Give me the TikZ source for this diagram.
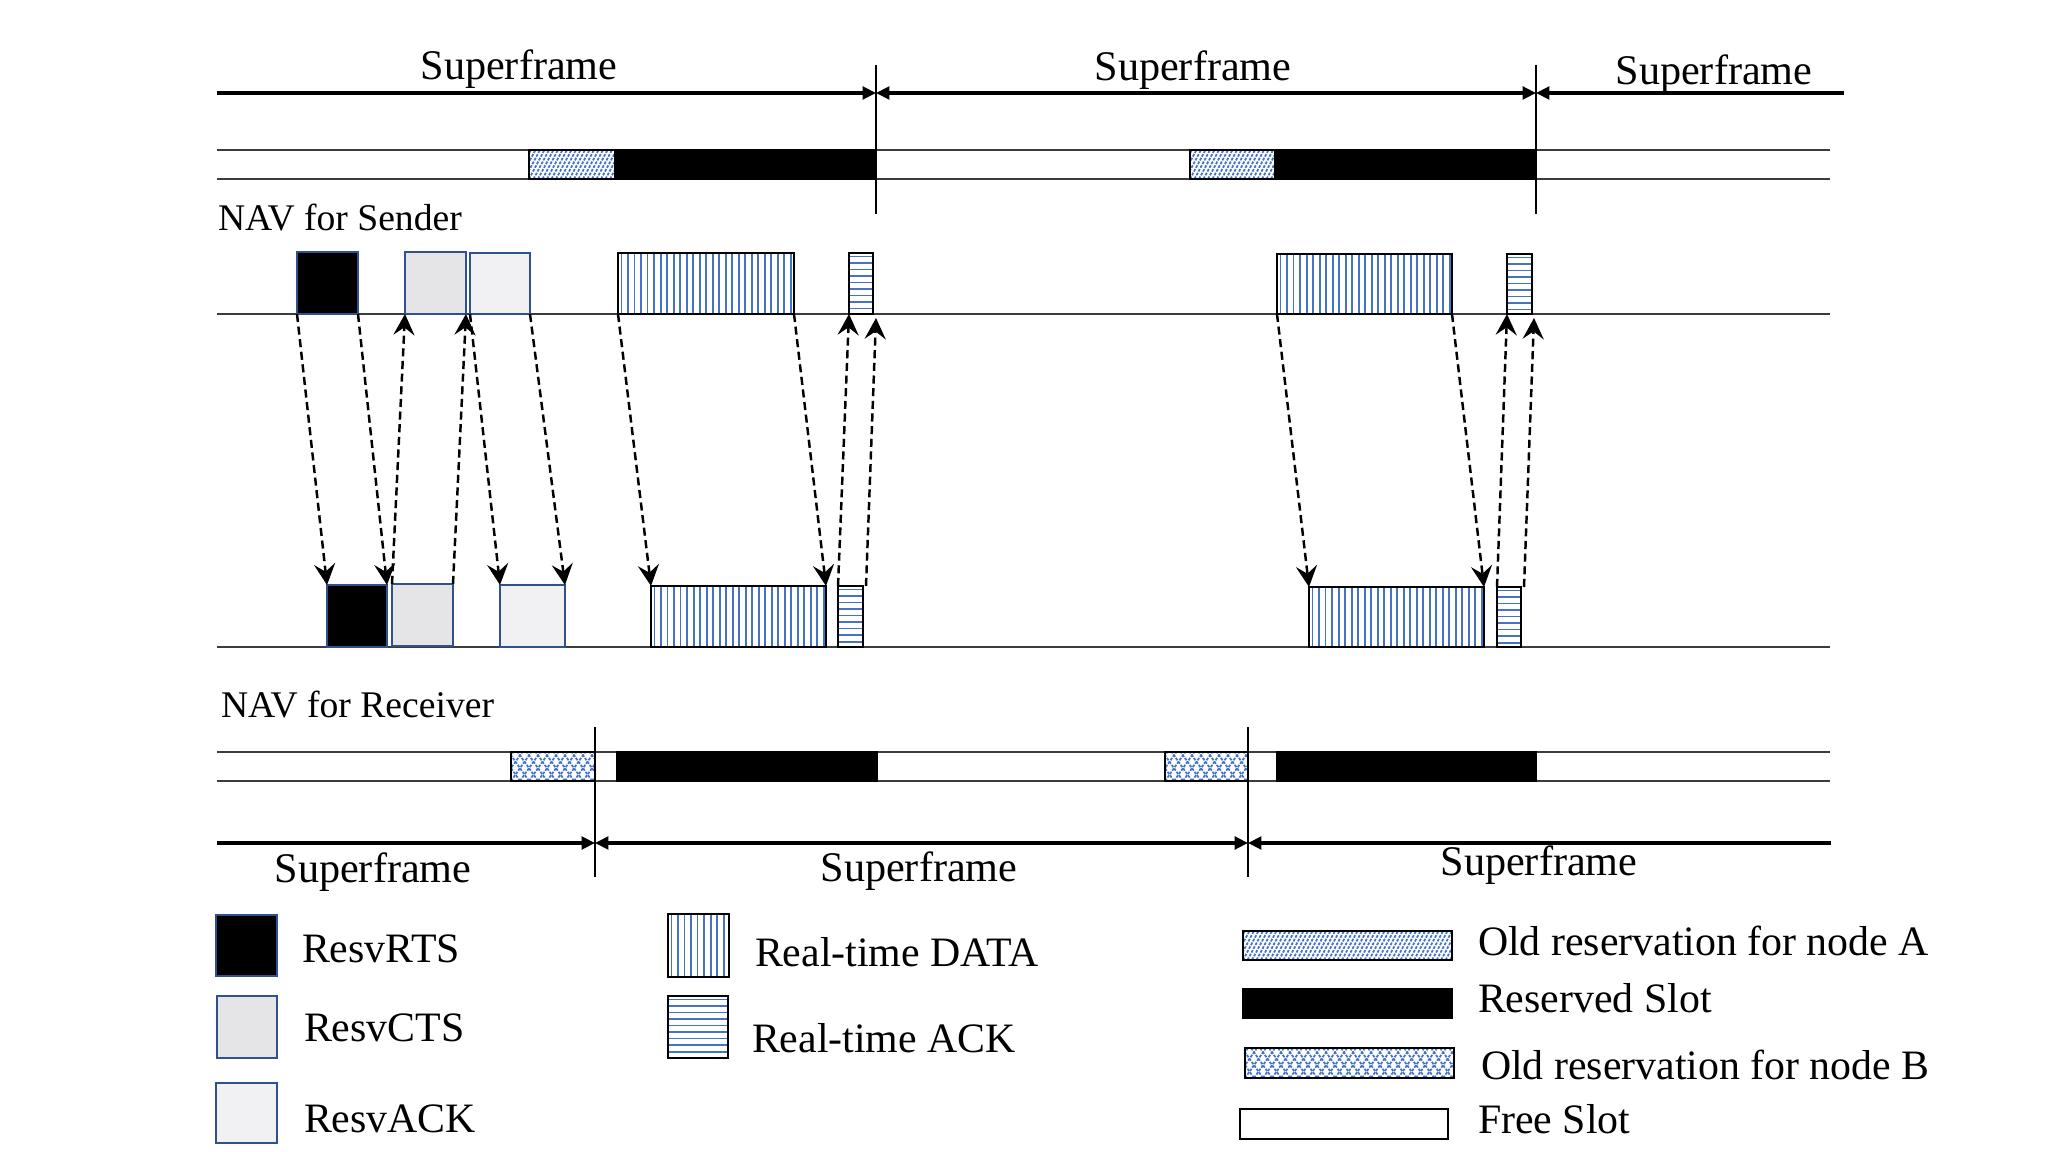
\documentclass[tikz,border=0pt]{standalone}
\usepackage{fontspec}
\setmainfont{Liberation Serif}
\usetikzlibrary{arrows.meta,calc}
\definecolor{stripeblue}{RGB}{68,114,196}
\definecolor{navyb}{RGB}{47,82,143}
\definecolor{ctsgray}{RGB}{229,229,231}
\definecolor{ackgray}{RGB}{241,241,243}
\definecolor{trackgray}{RGB}{60,60,60}
\newcommand\fsup{\fontsize{12}{14}\selectfont}
\newcommand\fnav{\fontsize{10.7}{13}\selectfont}
\newcommand\fleg{\fontsize{11.9}{14}\selectfont}
\newcommand\mkslot[6]{\node[#6, anchor=north west, minimum width={(#4-#2)*0.01cm}, minimum height={(#5-#3)*0.01cm}] (#1) at (#2,#3) {};}
\tikzset{
  every node/.style={inner sep=0pt, outer sep=0pt},
  resvbox/.style={draw=navyb, line width=0.6pt},
  strts/.style={resvbox, fill=black},
  stcts/.style={resvbox, fill=ctsgray},
  stack/.style={resvbox, fill=ackgray},
  stripeline/.style={stripeblue, line width=0.55pt},
  stdata/.style={draw=black, line width=0.7pt, fill=white, path picture={
     \foreach \k in {1,...,30}{\draw[stripeline] ([xshift=\k*0.065cm-0.03cm]path picture bounding box.north west) -- ([xshift=\k*0.065cm-0.03cm]path picture bounding box.south west);}}},
  strtack/.style={draw=black, line width=0.7pt, fill=white, path picture={
     \foreach \k in {1,...,12}{\draw[stripeline] ([yshift=-\k*0.065cm+0.03cm]path picture bounding box.north west) -- ([yshift=-\k*0.065cm+0.03cm]path picture bounding box.north east);}}},
  dotline/.style={stripeblue, line width=0.5pt, dash pattern=on 0.8pt off 0.4pt},
  sthatcha/.style={draw=black, line width=0.6pt, fill=white, path picture={
     \foreach \k in {-6,...,48}{\draw[dotline] ([xshift=\k*0.045cm]path picture bounding box.south west) -- ++(62:0.6cm);}}},
  sthatchb/.style={draw=black, line width=0.6pt, fill=white, path picture={
     \foreach \k in {-6,...,30}{\draw[dotline] ([xshift=\k*0.09cm]path picture bounding box.south west) -- ++(55:0.6cm);
       \draw[dotline] ([xshift=\k*0.09cm]path picture bounding box.south west) -- ++(125:0.6cm);}}},
  stres/.style={fill=black, draw=black, line width=0.4pt},
  stfree/.style={draw=black, line width=0.7pt, fill=white},
  track/.style={trackgray, line width=0.45pt},
  divider/.style={black, line width=0.5pt},
  sfline/.style={black, line width=0.9pt},
  conn/.style={black, line width=0.7pt, dash pattern=on 2.3pt off 1.3pt, -{Stealth[length=6pt, width=6pt, inset=2.2pt]}},
  sflabel/.style={font=\fsup, anchor=base},
  navlabel/.style={font=\fnav, anchor=base west},
  leglabel/.style={font=\fleg, anchor=base west},
}
\begin{document}
\begin{tikzpicture}[x=0.01cm, y=-0.01cm]
\fill[white] (0,0) rectangle (2048,1152);
\useasboundingbox (0,0) rectangle (2048,1152);

% ---------- top superframe ruler ----------
\coordinate (tL) at (217,93);
\coordinate (tD1) at (876,93);
\coordinate (tD2) at (1536,93);
\coordinate (tR) at (1844,93);
\coordinate (tD1a) at (876,65);
\coordinate (tD1b) at (876,214);
\coordinate (tD2a) at (1536,65);
\coordinate (tD2b) at (1536,214);
\draw[divider] (tD1a) -- (tD1b);
\draw[divider] (tD2a) -- (tD2b);
\draw[sfline, -{Triangle[length=3.8pt, width=3.6pt]}] (tL) -- (tD1);
\draw[sfline, {Triangle[length=3.8pt, width=3.6pt]}-{Triangle[length=3.8pt, width=3.6pt]}] (tD1) -- (tD2);
\draw[sfline, {Triangle[length=3.8pt, width=3.6pt]}-] (tD2) -- (tR);
\node[sflabel] (sf1) at (519,80) {Superframe};
\node[sflabel] (sf2) at (1193,81) {Superframe};
\node[sflabel] (sf3) at (1714,85) {Superframe};

% ---------- sender NAV track ----------
\coordinate (st1L) at (217,150); \coordinate (st1R) at (1830,150);
\coordinate (st2L) at (217,179); \coordinate (st2R) at (1830,179);
\draw[track] (st1L) -- (st1R);
\draw[track] (st2L) -- (st2R);
\mkslot{ta1}{529}{150}{615}{179}{sthatcha}
\mkslot{tb1}{616}{150}{876}{179}{stres}
\mkslot{ta2}{1190}{150}{1275}{179}{sthatcha}
\mkslot{tb2}{1276}{150}{1536}{179}{stres}
\node[navlabel] (navs) at (218,231) {NAV for Sender};

% ---------- sender / receiver lines ----------
\coordinate (sL) at (217,314); \coordinate (sR) at (1830,314);
\coordinate (rL) at (217,647); \coordinate (rR) at (1830,647);
\draw[track] (sL) -- (sR);
\draw[track] (rL) -- (rR);

% sender frames
\mkslot{srts}{297}{252}{358}{314}{strts}
\mkslot{scts}{405}{252}{466}{314}{stcts}
\mkslot{sack}{470}{253}{530}{314}{stack}
\mkslot{sdata}{618}{253}{794}{314}{stdata}
\mkslot{srtack}{849}{253}{873}{314}{strtack}
\mkslot{sdata2}{1277}{254}{1452}{314}{stdata}
\mkslot{srtack2}{1507}{254}{1532}{314}{strtack}
% receiver frames
\mkslot{rrts}{327}{585}{387}{647}{strts}
\mkslot{rcts}{392}{584}{453}{646}{stcts}
\mkslot{rack}{500}{585}{565}{647}{stack}
\mkslot{rdata}{651}{586}{826}{647}{stdata}
\mkslot{rrtack}{838}{586}{863}{647}{strtack}
\mkslot{rdata2}{1309}{587}{1484}{647}{stdata}
\mkslot{rrtack2}{1497}{587}{1521}{647}{strtack}

% connectors
\draw[conn] (srts.south west) -- (rrts.north west);
\draw[conn] (srts.south east) -- (rrts.north east);
\draw[conn] (rcts.north west) -- (scts.south west);
\draw[conn] (rcts.north east) -- (scts.south east);
\draw[conn] (sack.south west) -- (rack.north west);
\draw[conn] (sack.south east) -- (rack.north east);
\draw[conn] (sdata.south west) -- (rdata.north west);
\draw[conn] (sdata.south east) -- (rdata.north east);
\draw[conn] (rrtack.north west) -- (srtack.south west);
\draw[conn] ($(rrtack.north east)+(3,0)$) -- ($(srtack.south east)+(3,4)$);
\draw[conn] (sdata2.south west) -- (rdata2.north west);
\draw[conn] (sdata2.south east) -- (rdata2.north east);
\draw[conn] (rrtack2.north west) -- (srtack2.south west);
\draw[conn] ($(rrtack2.north east)+(3,0)$) -- ($(srtack2.south east)+(2,4)$);

% ---------- receiver NAV track ----------
\node[navlabel] (navr) at (221,717) {NAV for Receiver};
\coordinate (rt1L) at (217,752); \coordinate (rt1R) at (1830,752);
\coordinate (rt2L) at (217,781); \coordinate (rt2R) at (1830,781);
\draw[track] (rt1L) -- (rt1R);
\draw[track] (rt2L) -- (rt2R);
\mkslot{rb1}{511}{752}{595}{781}{sthatchb}
\mkslot{rk1}{617}{752}{877}{781}{stres}
\mkslot{rb2}{1165}{752}{1248}{781}{sthatchb}
\mkslot{rk2}{1277}{752}{1536}{781}{stres}

% ---------- bottom superframe ruler ----------
\coordinate (bL) at (217,843);
\coordinate (bD1) at (595,843);
\coordinate (bD2) at (1248,843);
\coordinate (bR) at (1831,843);
\coordinate (bD1a) at (595,727); \coordinate (bD1b) at (595,877);
\coordinate (bD2a) at (1248,727); \coordinate (bD2b) at (1248,877);
\draw[divider] (bD1a) -- (bD1b);
\draw[divider] (bD2a) -- (bD2b);
\draw[sfline, -{Triangle[length=3.8pt, width=3.6pt]}] (bL) -- (bD1);
\draw[sfline, {Triangle[length=3.8pt, width=3.6pt]}-{Triangle[length=3.8pt, width=3.6pt]}] (bD1) -- (bD2);
\draw[sfline, {Triangle[length=3.8pt, width=3.6pt]}-] (bD2) -- (bR);
\node[sflabel] (sf4) at (373,882) {Superframe};
\node[sflabel] (sf5) at (919,881) {Superframe};
\node[sflabel] (sf6) at (1539,875) {Superframe};

% ---------- legend ----------
\mkslot{lgrts}{216}{915}{277}{976}{strts}
\mkslot{lgcts}{217}{996}{277}{1058}{stcts}
\mkslot{lgack}{216}{1083}{277}{1143}{stack}
\mkslot{lgdata}{668}{914}{729}{977}{stdata}
\mkslot{lgrtack}{668}{996}{728}{1058}{strtack}
\mkslot{lga}{1243}{931}{1452}{960}{sthatcha}
\mkslot{lgres}{1243}{989}{1452}{1018}{stres}
\mkslot{lgb}{1245}{1048}{1454}{1078}{sthatchb}
\mkslot{lgfree}{1240}{1109}{1448}{1139}{stfree}
\node[leglabel] (t1) at (302,962) {ResvRTS};
\node[leglabel] (t2) at (304,1041) {ResvCTS};
\node[leglabel] (t3) at (304,1132) {ResvACK};
\node[leglabel] (t4) at (755,966) {Real-time DATA};
\node[leglabel] (t5) at (752,1052) {Real-time ACK};
\node[leglabel] (t6) at (1478,955) {Old reservation for node A};
\node[leglabel] (t7) at (1478,1012) {Reserved Slot};
\node[leglabel] (t8) at (1481,1079) {Old reservation for node B};
\node[leglabel] (t9) at (1478,1133) {Free Slot};
\end{tikzpicture}
\end{document}
